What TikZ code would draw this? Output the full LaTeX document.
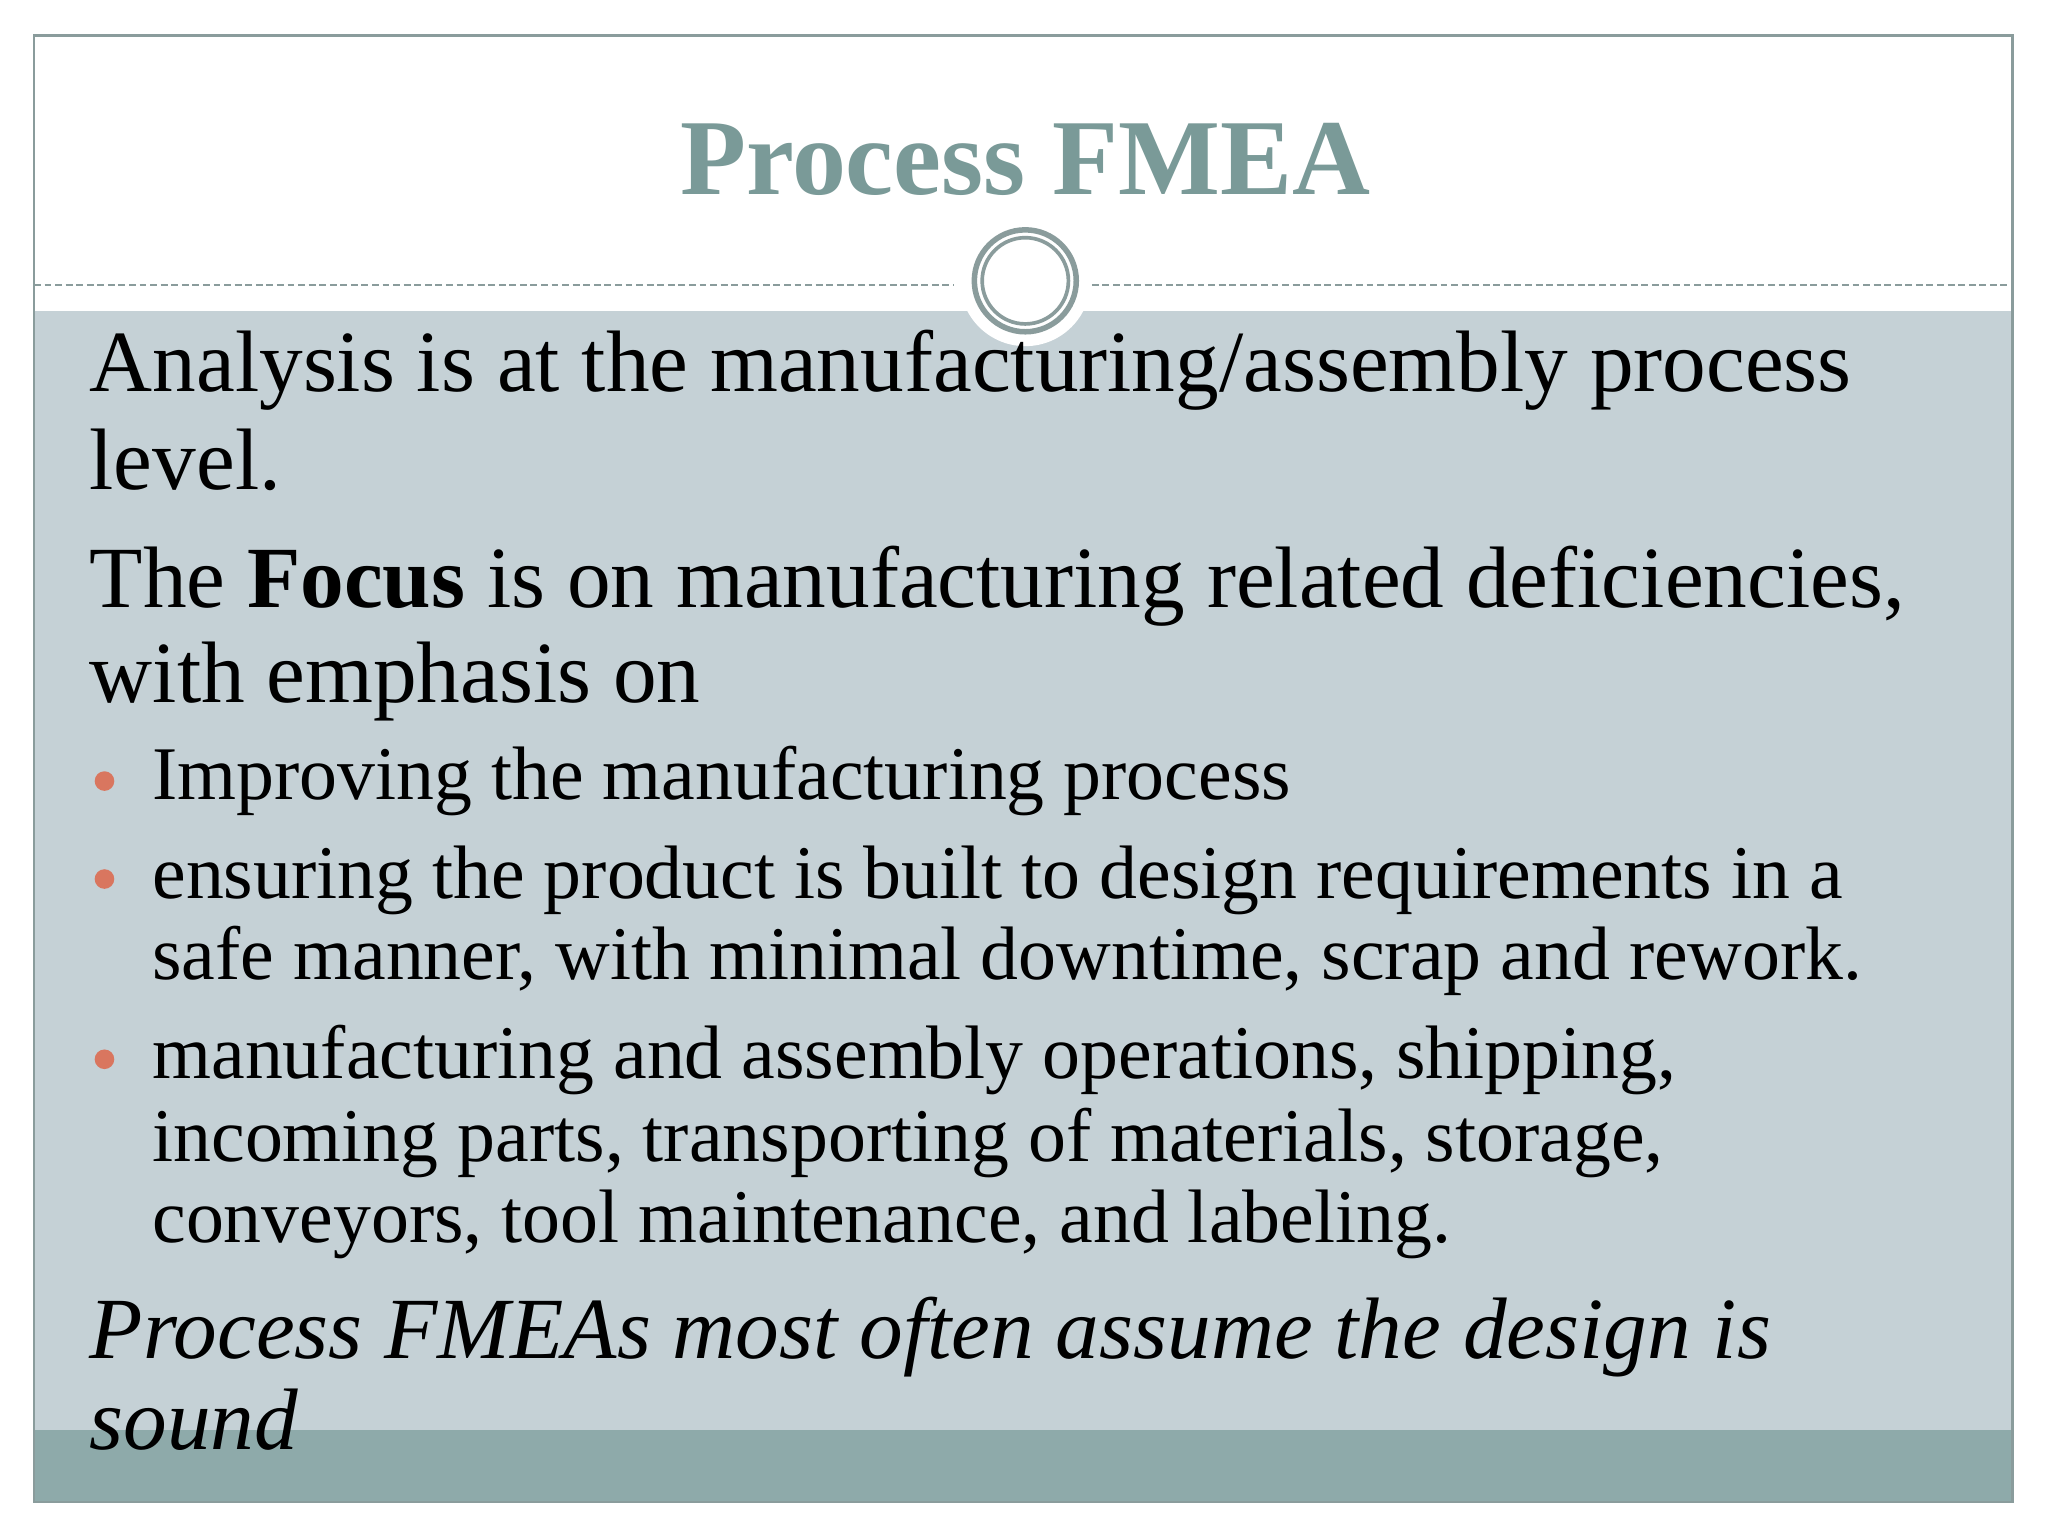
\documentclass[tikz,border=0pt]{standalone}
\usepackage{fontspec}
\setmainfont{Liberation Serif}
\definecolor{bodybg}{HTML}{C5D1D6}
\definecolor{barbg}{HTML}{8EAAAA}
\definecolor{titlec}{HTML}{7A9A98}
\definecolor{framec}{HTML}{8A9C9C}
\definecolor{dotc}{HTML}{D9765F}
\tikzset{
 big/.style={anchor=base west,inner sep=0pt,font=\fontsize{19}{22}\selectfont},
 small/.style={anchor=base west,inner sep=0pt,font=\fontsize{16.5}{19}\selectfont},
 dot/.style={circle,fill=dotc,inner sep=0pt,minimum size=0.15cm}
}
\begin{document}
\begin{tikzpicture}[x=0.01cm,y=-0.01cm]
\useasboundingbox (0,0) rectangle (1568,1176);
\fill[white] (0,0) rectangle (1568,1176);
\fill[bodybg] (26,238) rectangle (1541,1095);
\fill[barbg] (26,1095) rectangle (1541,1150);
\draw[framec,line width=0.6pt] (26,27) rectangle (1541,1150);
\draw[framec,dash pattern=on 1.5pt off 0.8pt,line width=0.4pt] (26,218) -- (730,218);
\draw[framec,dash pattern=on 1.5pt off 0.8pt,line width=0.4pt] (836,218) -- (1541,218);
\node[circle,fill=white,minimum size=1.0cm,inner sep=0pt] (c0) at (785,215) {};
\node[circle,draw=framec,line width=1.2pt,minimum size=0.78cm,inner sep=0pt] (c1) at (785,215) {};
\node[circle,draw=framec,line width=0.8pt,minimum size=0.66cm,inner sep=0pt] (c2) at (785,215) {};
\node[text=titlec,font=\fontsize{23.5}{26}\bfseries\selectfont,inner sep=0pt] (t) at (785,122) {Process FMEA};
\node[big] (l1) at (68,300) {Analysis is at the manufacturing/assembly process};
\node[big] (l2) at (68,375) {level.};
\node[big] (l3) at (68,465) {The \textbf{Focus} is on manufacturing related deficiencies,};
\node[big] (l4) at (68,538) {with emphasis on};
\node[dot] (d1) at (80,598) {};
\node[small] (b1) at (116,612) {Improving the manufacturing process};
\node[dot] (d2) at (80,673) {};
\node[small] (b2) at (116,688) {ensuring the product is built to design requirements in a};
\node[small] (b3) at (116,750) {safe manner, with minimal downtime, scrap and rework.};
\node[dot] (d3) at (80,811) {};
\node[small] (b4) at (116,826) {manufacturing and assembly operations, shipping,};
\node[small] (b5) at (116,889) {incoming parts, transporting of materials, storage,};
\node[small] (b6) at (116,951) {conveyors, tool maintenance, and labeling.};
\node[big,font=\fontsize{19}{22}\itshape\selectfont] (i1) at (68,1040) {Process FMEAs most often assume the design is};
\node[big,font=\fontsize{19}{22}\itshape\selectfont] (i2) at (68,1110) {sound};
\end{tikzpicture}
\end{document}
